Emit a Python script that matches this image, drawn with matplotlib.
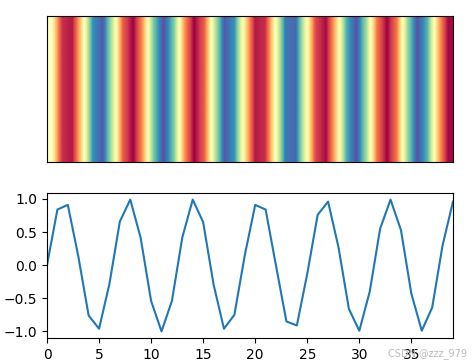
import numpy as np
import matplotlib.pyplot as plt

# valores (x = 0..39)
x = list(range(40))
y = [0.00, 0.84, 0.91, 0.14, -0.76, -0.96, -0.28, 0.66, 0.99, 0.41,
     -0.54, -1.00, -0.54, 0.42, 0.99, 0.65, -0.29, -0.96, -0.75, 0.15,
     0.91, 0.84, -0.01, -0.85, -0.91, -0.13, 0.76, 0.96, 0.27, -0.66,
     -0.99, -0.40, 0.55, 0.99, 0.53, -0.43, -0.99, -0.64, 0.30, 0.96]

fig = plt.figure(figsize=(4.74, 3.64), dpi=100)
ax1 = fig.add_axes([47 / 474, 1 - 162 / 364, 406 / 474, 146 / 364])
ax2 = fig.add_axes([47 / 474, 1 - 338 / 364, 406 / 474, 145 / 364])

# franja de colores
ax1.imshow(np.array(y)[np.newaxis, :], aspect='auto', cmap='Spectral_r',
           interpolation='bilinear', extent=[x[0], x[-1], 0, 1])
ax1.set_xticks([])
ax1.set_yticks([])

# linea
ax2.plot(x, y)
ax2.set_xlim(x[0], x[-1])
ax2.set_xticks([0, 5, 10, 15, 20, 25, 30, 35])
ax2.set_yticks([-1.0, -0.5, 0.0, 0.5, 1.0])

fig.text(0.985, 0.015, 'CSDN @zzz_979', ha='right', va='bottom',
         fontsize=7, color='#bbbbbb')

fig.savefig('out.png', dpi=100)
